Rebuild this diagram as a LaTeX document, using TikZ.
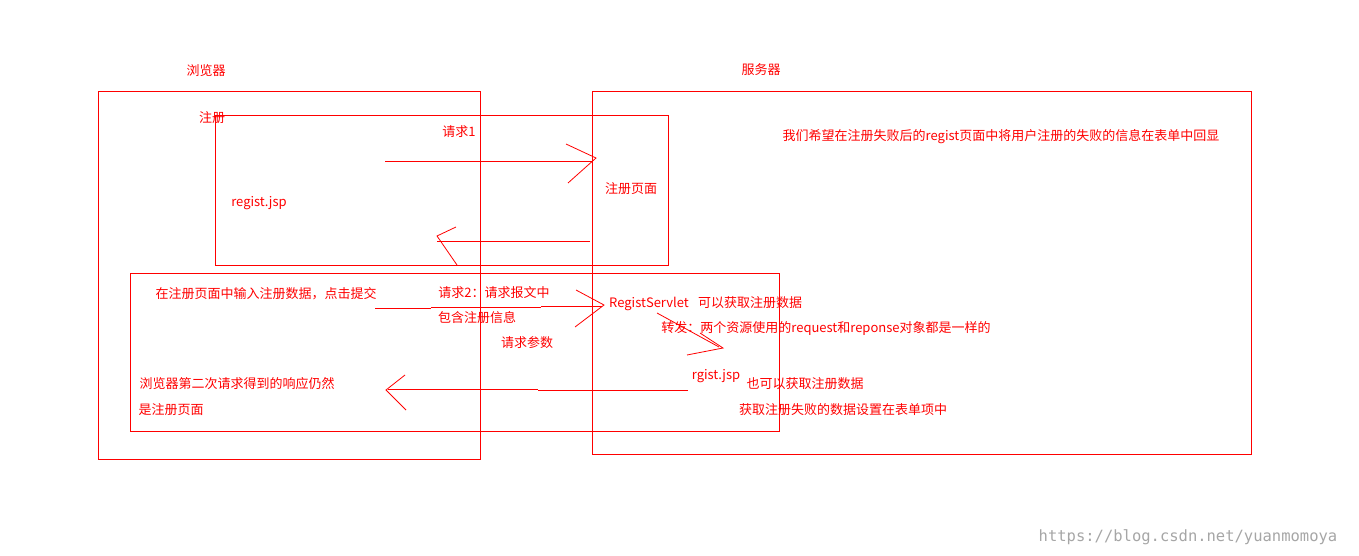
\documentclass[tikz,border=0pt]{standalone}
\usepackage{fontspec}
\setmainfont{Noto Sans CJK SC}
\setmonofont{DejaVu Sans Mono}
\begin{document}
\begin{tikzpicture}[x=1pt,y=-1pt,
    box/.style={draw=red, line width=0.8pt},
    pen/.style={red, line width=0.8pt},
    lbl/.style={text=red, font=\fontsize{13}{15}\selectfont, inner sep=0pt}]
    \useasboundingbox (0,0) rectangle (1359,556);
    % boxes
    \draw[box] (98,91) rectangle (480,459);
    \draw[box] (592,91) rectangle (1251,454);
    \draw[box] (215,115) rectangle (668,265);
    \draw[box] (130,273) rectangle (779,431);
    % labels
    \node[lbl] (browser) at (206,71) {浏览器};
    \node[lbl] (server) at (761,70) {服务器};
    \node[lbl] (reg) at (212,118) {注册};
    \node[lbl] (req1) at (459,132) {请求1};
    \node[lbl] (jsp) at (259,203) {regist.jsp};
    \node[lbl] (page) at (631,189) {注册页面};
    \node[lbl] (wish) at (1001,137) {我们希望在注册失败后的regist页面中将用户注册的失败的信息在表单中回显};
    \node[lbl] (input) at (266,294) {在注册页面中输入注册数据，点击提交};
    \node[lbl] (req2) at (494,293) {请求2：请求报文中};
    \node[lbl] (info) at (477,318) {包含注册信息};
    \node[lbl] (param) at (527,343) {请求参数};
    \node[lbl] (servlet) at (649,304) {RegistServlet};
    \node[lbl] (get1) at (750,303) {可以获取注册数据};
    \node[lbl] (fwd) at (826,329) {转发：两个资源使用的request和reponse对象都是一样的};
    \node[lbl] (rgist) at (716,376) {rgist.jsp};
    \node[lbl] (get2) at (805,384) {也可以获取注册数据};
    \node[lbl] (set) at (843,410) {获取注册失败的数据设置在表单项中};
    \node[lbl] (resp1) at (237,384) {浏览器第二次请求得到的响应仍然};
    \node[lbl] (resp2) at (171,410) {是注册页面};
    \node[text=gray!70, font=\ttfamily\fontsize{15.5}{17}\selectfont, inner sep=0pt] (mark) at (1188,537) {https://blog.csdn.net/yuanmomoya};
    % request 1
    \draw[pen] (385,161) -- (593,161);
    \draw[pen] (566,144) -- (596,158) -- (568,183);
    % response 1
    \draw[pen] (590,241) -- (437,241);
    \draw[pen] (456,227) -- (437,236) -- (457,265);
    % request 2
    \draw[pen] (375,308) -- (431,308) (431,307) -- (541,307) (541,306) -- (602,306);
    \draw[pen] (576,290) -- (604,305) -- (575,327);
    % forward
    \draw[pen] (657,313) -- (719,347);
    \draw[pen] (700,333) -- (723,348) -- (687,355);
    % response 2
    \draw[pen] (688,390) -- (538,390) (538,389) -- (388,389);
    \draw[pen] (405,375) -- (386,390) -- (406,410);
\end{tikzpicture}
\end{document}
